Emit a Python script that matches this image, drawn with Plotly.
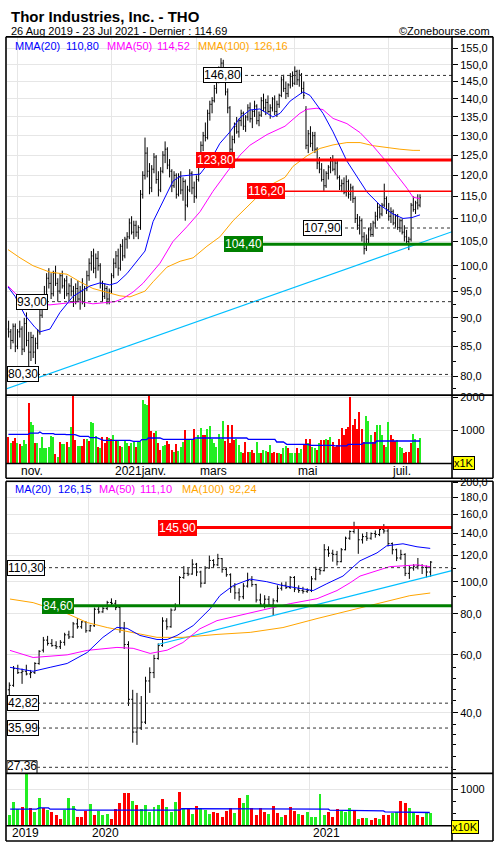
import numpy as np
import pandas as pd
import plotly.graph_objects as go

# ---------------- daily data (x1 = trading day index) ----------------
d_open = [88.0, 87.5, 86.0, 88.5, 85.0, 87.5, 88.0, 84.5, 89.0, 86.0,
          84.0, 86.5, 84.0, 85.5, 87.5, 90.5, 93.5, 92.5, 97.5, 96.5,
          94.5, 98.5, 96.5, 95.0, 98.0, 96.0, 97.0, 94.5, 96.0, 95.0,
          93.0, 95.5, 93.5, 95.0, 93.0, 95.5, 98.0, 100.5, 102.0, 99.5,
          101.5, 100.0, 96.5, 94.0, 95.5, 93.5, 95.0, 98.0, 100.5, 102.0,
          99.5, 104.0, 102.0, 105.5, 106.0, 109.0, 107.0, 108.5, 107.0, 108.0,
          115.5, 120.0, 125.5, 121.0, 117.0, 121.5, 124.5, 119.0, 116.5, 121.0,
          125.0, 126.5, 122.5, 121.0, 117.5, 120.0, 115.5, 119.5, 116.5, 118.5,
          113.0, 116.5, 120.5, 117.0, 115.0, 119.0, 123.0, 127.5, 130.0, 129.5,
          136.0, 138.5, 139.5, 143.0, 145.5, 148.5, 150.5, 146.0, 142.0, 137.5,
          126.5, 129.0, 132.5, 131.0, 134.0, 136.0, 132.5, 135.0, 137.5, 134.5,
          136.5, 138.0, 134.0, 135.5, 139.5, 137.5, 139.0, 136.5, 137.5, 140.0,
          136.5, 138.5, 141.0, 145.5, 143.0, 141.5, 144.0, 146.5, 144.5, 148.0,
          145.5, 147.0, 143.0, 137.0, 127.5, 130.5, 128.0, 130.0, 126.5, 123.0,
          121.5, 119.0, 117.5, 120.5, 122.0, 123.5, 121.5, 123.0, 119.5, 117.5,
          118.0, 116.0, 118.5, 115.5, 117.0, 114.5, 110.0, 108.5, 109.5, 106.0,
          103.5, 105.5, 107.5, 106.5, 109.0, 110.5, 112.5, 111.0, 113.0, 114.5,
          112.0, 110.5, 111.5, 109.0, 110.5, 108.0, 109.5, 107.0, 106.0, 105.0,
          105.5, 113.0, 112.0, 113.5, 113.0]
d_high = [89.5, 88.0, 89.0, 89.0, 88.0, 89.5, 88.5, 90.0, 91.0, 87.5,
          87.5, 87.0, 86.5, 88.0, 91.5, 94.0, 96.0, 98.5, 99.5, 98.5,
          99.0, 100.0, 97.5, 98.5, 99.0, 97.5, 98.0, 96.5, 97.5, 96.0,
          96.5, 97.0, 96.0, 97.5, 96.0, 99.0, 101.5, 103.0, 103.5, 102.5,
          103.0, 100.5, 97.0, 96.5, 96.0, 95.5, 98.5, 101.5, 103.0, 103.5,
          104.5, 105.5, 106.0, 107.0, 110.0, 110.5, 109.5, 109.5, 108.5, 116.5,
          121.0, 129.5, 127.0, 123.0, 122.5, 125.5, 125.0, 121.0, 122.0, 126.0,
          128.5, 127.0, 124.0, 121.5, 121.0, 120.5, 120.5, 121.0, 119.5, 119.0,
          117.5, 121.5, 121.0, 118.5, 120.0, 124.0, 128.5, 131.0, 133.5, 137.0,
          139.5, 140.5, 144.0, 146.5, 149.5, 152.0, 151.5, 146.5, 143.0, 138.0,
          130.0, 133.5, 135.0, 134.5, 137.0, 136.5, 135.5, 138.5, 139.0, 137.0,
          139.5, 138.5, 136.5, 140.5, 141.5, 140.0, 141.0, 138.5, 140.5, 141.0,
          139.5, 141.5, 146.5, 147.0, 145.0, 144.5, 147.5, 148.0, 149.5, 148.5,
          148.5, 147.5, 145.0, 138.0, 131.5, 132.5, 131.0, 131.0, 127.0, 124.5,
          123.0, 121.5, 121.0, 122.5, 124.5, 125.0, 124.0, 123.5, 120.0, 119.0,
          119.5, 120.0, 119.0, 118.0, 117.5, 115.0, 111.0, 110.5, 110.0, 107.0,
          106.5, 108.0, 109.0, 109.5, 111.5, 113.5, 113.0, 113.5, 118.0, 115.0,
          113.5, 112.5, 112.0, 111.0, 111.0, 110.0, 110.0, 108.5, 107.5, 106.0,
          113.5, 115.0, 114.0, 115.5, 115.5]
d_low = [86.5, 84.5, 85.5, 84.0, 84.5, 86.5, 83.5, 84.0, 85.0, 80.3,
         82.5, 83.0, 82.0, 84.5, 87.0, 90.0, 92.0, 92.0, 95.5, 93.5,
         94.0, 96.0, 93.0, 94.5, 95.5, 93.5, 94.0, 93.0, 94.0, 92.0,
         92.5, 93.0, 91.5, 92.5, 92.0, 95.0, 97.0, 99.0, 98.5, 97.5,
         99.0, 95.5, 93.0, 93.5, 92.5, 92.5, 94.5, 97.5, 99.5, 98.0,
         99.0, 101.0, 101.5, 103.5, 105.5, 106.5, 105.5, 106.0, 105.5, 107.5,
         114.5, 119.0, 119.5, 115.5, 116.0, 120.5, 118.0, 115.0, 116.0, 120.5,
         123.0, 121.5, 119.5, 116.0, 117.0, 114.5, 115.0, 115.5, 114.0, 109.5,
         112.5, 116.0, 115.5, 113.5, 114.5, 118.5, 122.0, 126.0, 128.5, 129.0,
         134.0, 136.0, 139.0, 141.5, 144.5, 147.0, 145.0, 141.0, 136.0, 125.0,
         121.7, 128.0, 130.5, 129.5, 132.5, 131.5, 131.0, 134.0, 133.5, 132.0,
         135.0, 133.0, 132.5, 135.0, 136.5, 135.5, 136.0, 134.5, 136.5, 135.5,
         135.0, 137.5, 140.5, 142.0, 140.0, 140.5, 143.0, 143.5, 144.0, 144.0,
         143.5, 141.5, 140.0, 126.5, 125.5, 127.0, 126.0, 125.5, 121.5, 120.5,
         118.5, 116.3, 117.0, 119.0, 120.5, 121.0, 120.0, 119.0, 116.5, 116.0,
         115.5, 115.0, 114.5, 114.0, 113.5, 109.0, 107.5, 106.5, 105.0, 102.3,
         103.0, 104.5, 106.0, 106.0, 108.0, 109.5, 110.0, 110.5, 112.5, 111.0,
         109.5, 109.0, 108.5, 108.0, 107.5, 107.0, 106.5, 105.0, 104.5, 103.2,
         105.0, 111.5, 111.0, 112.0, 112.5]
d_close = [87.5, 86.0, 88.5, 85.0, 87.5, 88.0, 84.5, 89.0, 86.0, 84.0,
           86.5, 84.0, 85.5, 87.5, 90.5, 93.5, 92.5, 97.5, 96.5, 94.5,
           98.5, 96.5, 95.0, 98.0, 96.0, 97.0, 94.5, 96.0, 95.0, 93.0,
           95.5, 93.5, 95.0, 93.0, 95.5, 98.0, 100.5, 102.0, 99.5, 101.5,
           100.0, 96.5, 94.0, 95.5, 93.5, 95.0, 98.0, 100.5, 102.0, 99.5,
           104.0, 102.0, 105.5, 106.0, 109.0, 107.0, 108.5, 107.0, 108.0, 115.5,
           120.0, 125.5, 121.0, 117.0, 121.5, 124.5, 119.0, 116.5, 121.0, 125.0,
           126.5, 122.5, 121.0, 117.5, 120.0, 115.5, 119.5, 116.5, 118.5, 113.0,
           116.5, 120.5, 117.0, 115.0, 119.0, 123.0, 127.5, 130.0, 129.5, 136.0,
           138.5, 139.5, 143.0, 145.5, 148.5, 150.5, 146.0, 142.0, 137.5, 126.5,
           129.0, 132.5, 131.0, 134.0, 136.0, 132.5, 135.0, 137.5, 134.5, 136.5,
           138.0, 134.0, 135.5, 139.5, 137.5, 139.0, 136.5, 137.5, 140.0, 136.5,
           138.5, 141.0, 145.5, 143.0, 141.5, 144.0, 146.5, 144.5, 148.0, 145.5,
           147.0, 143.0, 141.0, 127.5, 130.5, 128.0, 130.0, 126.5, 123.0, 121.5,
           119.0, 117.5, 120.5, 122.0, 123.5, 121.5, 123.0, 119.5, 117.5, 118.0,
           116.0, 118.5, 115.5, 117.0, 114.5, 110.0, 108.5, 109.5, 106.0, 103.5,
           105.5, 107.5, 106.5, 109.0, 110.5, 112.5, 111.0, 113.0, 114.5, 112.0,
           110.5, 111.5, 109.0, 110.5, 108.0, 109.5, 107.0, 106.0, 105.0, 105.5,
           113.0, 112.0, 113.5, 113.0, 114.69]
d_vol = [800, 630, 680, 770, 600, 570, 530, 700, 570, 1820,
         1250, 1150, 630, 600, 450, 800, 450, 450, 500, 830,
         800, 280, 180, 650, 570, 570, 650, 480, 1100, 2050,
         720, 530, 530, 530, 750, 730, 670, 1250, 1220, 830,
         500, 470, 800, 620, 800, 770, 750, 870, 720, 700,
         520, 500, 700, 630, 520, 600, 650, 480, 650, 650,
         1900, 1800, 1750, 2050, 980, 920, 980, 630, 400, 520,
         550, 670, 570, 400, 350, 570, 370, 500, 650, 1020,
         700, 700, 750, 1030, 730, 850, 1080, 850, 850, 1050,
         1120, 750, 600, 500, 900, 750, 1280, 670, 1150, 600,
         1150, 700, 750, 550, 350, 320, 650, 350, 350, 400,
         300, 650, 320, 300, 400, 370, 350, 550, 320, 350,
         300, 300, 280, 450, 520, 450, 300, 300, 320, 450,
         300, 420, 550, 750, 600, 750, 500, 450, 400, 600,
         700, 700, 750, 700, 800, 650, 500, 550, 750, 1070,
         850, 1050, 1100, 2000, 1150, 1350, 1050, 1550, 1050, 650,
         1430, 1280, 850, 650, 950, 1150, 1150, 850, 550, 500,
         1250, 850, 750, 670, 700, 480, 450, 320, 350, 350,
         600, 900, 750, 450, 780]
d_vol_dir = ("rgrrgrgggr" "ggrggggggg" "grgrggrggr" "rggrrgrggg" "rgrrrgrgrg"
             "rgggrggrgg" "gggrrrgrrg" "grrrgrgggr" "gggrgggrrg" "gggggggrrr"
             "rrgggrrrgr" "rggrggrgrr" "rgrggrgggr" "ggrrgrggrg" "rrgrgrrrrr"
             "rrrrrrrrrr" "gggrrgggrg" "grrrgggrrr" "rggrg")

d_ma20_i = [-0.27, 2.9, 7.3, 11.8, 14.0, 18.5, 23.0, 28.8, 36.4, 40.9, 45.3, 48.5, 52.9, 57.4, 61.0,
            64.6, 69.0, 73.5, 76.7, 81.1, 85.6, 90.1, 94.5, 99.0, 103.5, 107.9, 112.4, 115.6, 118.2,
            121.4, 125.9, 131.7, 134.8, 140.6, 145.1, 151.3, 155.8, 160.3, 166.1, 171.9, 176.4, 180.4, 184]
d_ma20 = [95.8, 94.0, 90.5, 88.3, 87.5, 88.0, 91.0, 94.0, 96.0, 96.6, 96.2, 96.6, 98.4, 101.0, 103.0,
          109.3, 113.8, 118.6, 119.8, 120.0, 120.3, 123.5, 128.0, 131.0, 134.8, 136.9, 137.2, 136.0, 135.0,
          136.0, 139.4, 142.0, 141.0, 136.0, 131.0, 123.5, 119.6, 116.0, 113.0, 111.0, 110.0, 110.2, 110.8]
d_ma50_i = [-0.27, 2.9, 7.3, 11.8, 18.5, 26.1, 31.9, 37.7, 44.0, 47.6, 51.2, 55.6, 60.1, 67.7, 73.5,
            79.8, 85.6, 91.4, 97.7, 103.5, 107.9, 115.6, 123.6, 130.3, 133.4, 137.9, 140.6, 145.1, 151.3,
            157.2, 163.0, 169.2, 173.7, 178.2, 180.9, 184]
d_ma50 = [96.0, 94.6, 93.2, 92.6, 92.4, 92.8, 93.0, 92.6, 92.8, 93.0, 93.6, 94.8, 96.5, 100.5, 105.0,
          108.2, 111.5, 116.2, 120.8, 125.0, 127.5, 130.3, 132.5, 136.0, 137.1, 137.4, 137.0, 134.6, 133.2,
          130.8, 127.3, 123.2, 120.0, 116.9, 114.8, 114.5]
d_ma100_i = [-0.27, 5.1, 10.9, 18.5, 26.1, 31.9, 37.7, 44.0, 49.8, 54.3, 57.4, 61.0, 64.6, 70.8, 76.7,
             82.5, 88.7, 94.5, 100.4, 106.6, 112.4, 118.2, 123.6, 127.2, 133.4, 139.3, 145.1, 151.3, 157.2,
             163.0, 169.2, 175.0, 180.9, 184]
d_ma100 = [103.3, 101.6, 100.0, 98.7, 98.3, 96.8, 95.5, 94.7, 94.1, 93.9, 94.4, 95.0, 96.8, 99.7, 100.9,
           101.6, 104.0, 106.0, 109.5, 112.5, 115.5, 118.0, 119.5, 122.2, 124.8, 126.7, 127.6, 128.2, 128.2,
           127.4, 126.9, 126.5, 126.2, 126.2]
dv_ma_i = [-0.1, 8.8, 9.6, 13.3, 14.0, 15.2, 20.0, 20.7, 25.2, 25.9, 29.7, 31.9, 35.7, 36.4, 39.4,
           40.9, 42.4, 54.3, 55.8, 58.8, 59.5, 61.7, 62.5, 67.7, 69.2, 82.6, 83.4, 106.5, 107.2, 119.1,
           119.9, 122.9, 124.4, 133.3, 135.5, 145.2, 146.0, 151.2, 151.9, 157.9, 158.7, 163.9, 164.6, 184]
dv_ma = [880, 880, 920, 920, 950, 900, 900, 880, 880, 870, 870, 820, 820, 780, 780,
         750, 700, 700, 670, 670, 720, 720, 770, 770, 730, 730, 770, 770, 730, 730,
         650, 650, 580, 580, 550, 550, 530, 530, 580, 580, 620, 620, 680, 680]
d_trend_i = [-0.85, 198.3]
d_trend = [78.0, 107.1]
d_levels = [146.80, 123.80, 116.20, 107.90, 104.40, 93.00, 80.30]
d_level_kind = ["dash", "red", "redthin", "dash", "green", "dash", "dash"]
d_legend = [("MMA(20)", "110,80"), ("MMA(50)", "114,52"), ("MMA(100)", "126,16")]

# ---------------- weekly data ----------------
w_open = [47.0, 48.5, 54.5, 53.0, 53.5, 52.5, 53.0, 56.5, 62.0, 66.5,
          65.0, 64.0, 63.5, 65.5, 69.0, 68.0, 74.5, 73.0, 75.5, 71.0,
          73.5, 82.5, 81.0, 83.0, 86.5, 86.0, 83.5, 72.0, 64.5, 44.0,
          35.0, 36.0, 37.5, 50.0, 53.0, 58.5, 64.0, 76.0, 73.0, 82.0,
          84.5, 103.0, 106.0, 105.5, 113.0, 107.0, 99.0, 110.0, 116.0, 112.5,
          117.5, 109.0, 105.0, 96.5, 92.5, 90.0, 97.0, 101.0, 98.0, 88.0,
          85.5, 88.5, 85.0, 87.5, 95.5, 97.5, 96.0, 103.0, 95.0, 94.0,
          93.5, 94.0, 102.0, 109.0, 108.0, 125.0, 122.0, 121.0, 115.0, 125.0,
          135.5, 142.0, 146.0, 134.0, 137.0, 135.5, 140.0, 139.0, 144.0, 142.5,
          130.5, 125.0, 118.0, 121.0, 106.0, 110.0, 111.5, 112.0, 110.5, 107.0]
w_high = [49.5, 55.5, 56.0, 54.5, 56.0, 54.0, 57.0, 62.0, 68.0, 68.5,
          67.0, 66.0, 66.5, 70.0, 71.0, 75.5, 77.5, 76.0, 76.0, 74.0,
          83.5, 84.5, 84.0, 87.5, 89.0, 88.0, 84.0, 75.5, 66.0, 47.0,
          46.0, 45.0, 51.5, 55.0, 60.0, 65.0, 78.0, 77.5, 83.0, 86.0,
          104.0, 111.5, 110.0, 117.0, 114.0, 108.0, 111.5, 120.0, 117.0, 121.5,
          118.0, 110.5, 106.0, 99.0, 95.5, 99.0, 106.5, 104.0, 98.5, 92.0,
          91.0, 90.5, 89.0, 97.5, 99.5, 100.0, 104.0, 104.0, 97.5, 96.5,
          95.5, 104.0, 111.0, 110.0, 130.0, 128.0, 125.0, 124.0, 126.5, 137.0,
          143.0, 152.0, 146.5, 140.0, 141.5, 141.0, 143.0, 145.5, 149.5, 145.0,
          131.5, 126.0, 125.0, 122.0, 112.0, 113.0, 118.0, 113.0, 112.0, 115.5]
w_low = [45.0, 48.0, 52.5, 49.0, 52.0, 51.0, 52.5, 56.0, 61.0, 64.0,
         63.5, 62.5, 62.5, 64.0, 67.0, 67.5, 72.0, 72.0, 70.0, 70.5,
         73.0, 80.0, 80.5, 82.0, 84.5, 82.0, 70.0, 62.5, 42.0, 32.5,
         32.0, 35.5, 37.0, 46.0, 51.0, 58.0, 63.5, 71.5, 72.5, 82.0,
         84.0, 102.0, 104.0, 105.0, 104.0, 96.0, 98.5, 109.5, 110.0, 111.5,
         106.5, 103.5, 92.5, 88.5, 87.5, 88.5, 96.0, 96.5, 86.5, 84.0,
         83.0, 84.0, 79.0, 86.5, 94.0, 95.0, 95.0, 93.0, 92.5, 92.0,
         92.5, 93.0, 101.0, 105.0, 107.5, 119.0, 115.0, 112.0, 114.5, 124.5,
         134.0, 140.0, 121.5, 130.5, 133.0, 134.0, 136.0, 137.5, 140.0, 128.0,
         121.0, 115.5, 116.5, 104.0, 102.0, 108.0, 109.0, 105.5, 103.0, 103.5]
w_close = [48.5, 54.5, 53.0, 53.5, 52.5, 53.0, 56.5, 61.5, 66.5, 65.0,
           64.0, 63.5, 65.5, 69.0, 68.0, 74.5, 73.0, 75.5, 71.0, 73.5,
           82.5, 81.0, 83.0, 86.5, 86.0, 83.5, 72.0, 64.5, 44.0, 35.0,
           36.0, 37.5, 50.0, 53.0, 58.5, 64.0, 76.0, 73.0, 82.0, 84.5,
           103.0, 106.0, 105.5, 113.0, 107.0, 99.0, 110.0, 116.0, 112.5, 117.5,
           109.0, 105.0, 96.5, 92.5, 90.0, 97.0, 101.0, 98.0, 88.0, 85.5,
           88.5, 85.0, 87.5, 95.5, 97.5, 96.0, 103.0, 95.0, 94.0, 93.5,
           94.0, 102.0, 109.0, 108.0, 125.0, 122.0, 121.0, 115.0, 125.0, 135.5,
           142.0, 146.0, 134.0, 137.0, 135.5, 140.0, 139.0, 144.0, 142.5, 130.5,
           125.0, 118.0, 121.0, 106.0, 110.0, 111.5, 112.0, 110.5, 107.0, 114.69]
w_vol = [291, 655, 455, 518, 1600, 491, 355, 764, 473, 427,
         355, 291, 182, 427, 764, 545, 245, 245, 409, 591,
         291, 409, 291, 318, 182, 455, 627, 882, 882, 673,
         564, 455, 564, 382, 518, 564, 727, 518, 382, 655,
         927, 473, 473, 318, 545, 473, 427, 309, 382, 336,
         245, 400, 491, 336, 745, 609, 836, 473, 273, 473,
         355, 318, 545, 336, 227, 291, 518, 409, 318, 273,
         382, 245, 245, 864, 273, 364, 218, 445, 409, 382,
         491, 409, 182, 209, 209, 155, 209, 182, 273, 273,
         336, 382, 673, 627, 491, 382, 273, 218, 336, 336]
w_vol_dir = ("gggrgrggrg" "rrrgggrrrg" "rgggrrrrrg" "rgggggrggg" "rgrgrgggrr"
             "rrrgrggrrr" "rgrrgrrrgr" "gggggrrrgg" "grgrgrrgrr" "ggrrggrrgg")

w_ma20_i = [0.16, 5.6, 9.6, 13.6, 18.3, 22.0, 25.3, 27.7, 30.7, 34.7, 37.1, 39.4, 43.2, 47.2, 49.5,
            52.6, 56.6, 60.5, 64.3, 68.3, 71.4, 74.6, 78.4, 82.4, 86.4, 88.7, 92.5, 95.8, 98.9]
w_ma20 = [55.0, 53.5, 55.0, 56.5, 61.0, 67.8, 72.7, 72.2, 68.7, 66.8, 66.8, 68.7, 73.6, 82.8, 90.8,
          97.3, 101.8, 100.0, 97.3, 95.2, 94.0, 98.6, 104.0, 115.7, 122.3, 128.5, 130.3, 127.6, 126.2]
w_ma50_i = [0.16, 5.6, 13.6, 18.3, 25.3, 29.1, 33.1, 37.1, 40.8, 44.8, 48.8, 56.6, 66.0, 72.3, 77.0,
            80.1, 82.4, 86.4, 89.4, 92.5, 95.8, 98.9]
w_ma50 = [61.9, 58.9, 60.0, 61.9, 63.2, 62.8, 60.6, 62.0, 65.4, 72.0, 76.2, 80.5, 85.8, 88.8, 94.0,
          99.3, 104.0, 108.0, 111.1, 111.7, 112.5, 111.1]
w_ma100_i = [0.16, 5.6, 13.6, 18.3, 23.0, 29.1, 34.7, 40.8, 48.8, 56.6, 64.3, 72.3, 80.1, 87.8, 94.1, 98.9]
w_ma100 = [88.6, 86.4, 80.0, 75.2, 72.6, 70.2, 67.8, 67.8, 69.2, 70.2, 72.6, 77.3, 81.7, 86.4, 90.7, 92.4]
wv_ma_i = [0.2, 6.4, 7.1, 9.2, 9.6, 15.4, 15.8, 40.1, 40.5, 48.7, 49.1, 53.4, 53.8, 63.6, 64.0,
           75.0, 75.3, 80.8, 81.6, 87.9, 88.3, 96.9, 97.3, 98.8]
wv_ma = [455, 455, 491, 491, 455, 455, 427, 427, 473, 473, 455, 455, 473, 473, 455,
         455, 427, 427, 409, 409, 382, 382, 364, 364]
w_trend_i = [34.9, 104.0]
w_trend = [64.5, 108.0]
w_levels = [145.90, 110.30, 84.60, 42.82, 35.99, 27.36]
w_level_kind = ["red", "dash", "green", "dash", "dash", "dash"]
w_legend = [("MA(20)", "126,15"), ("MA(50)", "111,10"), ("MA(100)", "92,24")]

d_ticks = [80, 85, 90, 95, 100, 105, 110, 115, 120, 125, 130, 135, 140, 145, 150, 155]
w_ticks = [40, 60, 80, 100, 120, 140, 160, 180, 200]

# ---------------- geometry (pixels) ----------------
W, H = 500, 850
FONT = "Liberation Sans, Arial, sans-serif"
GRID = "#e6e6e6"
def px(x): return x / W
def py(y): return 1 - y / H

PL, PR = 7, 452
D_X0, D_DX = 8.6, 2.236
W_X0, W_DX = 9.3, 4.256
d_xr = [(PL - D_X0) / D_DX, (PR - D_X0) / D_DX]
w_xr = [(PL - W_X0) / W_DX, (PR - W_X0) / W_DX]
def dix(p): return (p - D_X0) / D_DX
def wix(p): return (p - W_X0) / W_DX

def dlog(y): return np.log10(155) - (y - 44.7) / 1146.6
def wlog(y): return np.log10(200) - (y - 480.7) / 331.3

# dates
holidays = pd.to_datetime(["2020-11-26", "2020-12-25", "2021-01-01", "2021-01-18",
                           "2021-02-15", "2021-04-02", "2021-05-31", "2021-07-05"])
d_dates = pd.bdate_range("2020-10-27", "2021-07-23")
d_dates = d_dates[~d_dates.isin(holidays)]
n_d = len(d_close)
d_idx = np.arange(n_d)
w_dates = pd.date_range("2019-08-26", periods=len(w_close), freq="W-MON")
w_idx = np.arange(len(w_close))

mnames = {11: "nov.", 1: "janv.", 3: "mars", 5: "mai", 7: "juil."}
d_tick_idx, d_tick_txt = [], []
for i in range(1, len(d_dates)):
    if d_dates[i].month != d_dates[i - 1].month and d_dates[i].month in mnames:
        d_tick_idx.append(i)
        m = d_dates[i].month
        d_tick_txt.append((str(d_dates[i].year) if m == 1 else "") + mnames[m])
w_tick_idx, w_tick_txt = [], []
for i in range(1, len(w_dates)):
    if w_dates[i].year != w_dates[i - 1].year:
        w_tick_idx.append(i - 0.5)
        w_tick_txt.append(str(w_dates[i].year))

fig = go.Figure()

def ohlc(o, h, l, c, xa, ya, tw):
    n = len(c)
    fig.add_trace(go.Ohlc(x=np.arange(n), open=o, high=h, low=l, close=c, xaxis=xa, yaxis=ya,
                          increasing=dict(line=dict(color="black", width=1)),
                          decreasing=dict(line=dict(color="black", width=1)),
                          tickwidth=tw, hoverinfo="skip"))

def line(x, y, color, xa, ya, width=1, dash=None):
    fig.add_trace(go.Scatter(x=x, y=y, mode="lines", xaxis=xa, yaxis=ya,
                             line=dict(color=color, width=width, dash=dash), hoverinfo="skip"))

# daily price
ohlc(d_open, d_high, d_low, d_close, "x", "y", 0.4)
line(d_trend_i, d_trend, "#00bfff", "x", "y", 1.2)
line(d_ma100_i, d_ma100, "#ffa500", "x", "y")
line(d_ma50_i, d_ma50, "#ff00ff", "x", "y")
line(d_ma20_i, d_ma20, "#0000ff", "x", "y")

# weekly price
ohlc(w_open, w_high, w_low, w_close, "x3", "y3", 0.35)
line(w_trend_i, w_trend, "#00bfff", "x3", "y3", 1.2)
line(w_ma100_i, w_ma100, "#ffa500", "x3", "y3")
line(w_ma50_i, w_ma50, "#ff00ff", "x3", "y3")
line(w_ma20_i, w_ma20, "#0000ff", "x3", "y3")

COL = {"r": "#ff0000", "g": "#22ee22"}
fig.add_trace(go.Bar(x=d_idx, y=d_vol, marker=dict(color=[COL[c] for c in d_vol_dir], line=dict(width=0)),
                     width=0.65, xaxis="x2", yaxis="y2", hoverinfo="skip"))
line(dv_ma_i, dv_ma, "#0000ff", "x2", "y2", 1.3)
fig.add_trace(go.Bar(x=w_idx, y=w_vol, marker=dict(color=[COL[c] for c in w_vol_dir], line=dict(width=0)),
                     width=0.7, xaxis="x4", yaxis="y4", hoverinfo="skip"))
line(wv_ma_i, wv_ma, "#0000ff", "x4", "y4", 1.3)

annotations = []
shapes = []

STY = {"dash": dict(color="#333333", width=1, dash="3px,3px"),
       "red": dict(color="#ff0000", width=3),
       "redthin": dict(color="#ff0000", width=1.5),
       "green": dict(color="#008000", width=3)}
LBL = {"dash": ("white", "black", "black"), "red": ("#ff0000", "#ff0000", "white"),
       "redthin": ("#ff0000", "#ff0000", "white"), "green": ("#008000", "#008000", "white")}

def levels(vals, kinds, starts, xa, ya, xr, clip_last=None):
    for v, k, s in zip(vals, kinds, starts):
        txt = f"{v:.2f}".replace(".", ",")
        bg, bc, fc = LBL[k]
        if clip_last is not None and v == clip_last[0]:
            # label partly hidden by the panel edge: clipped shape + clipped text
            x1 = clip_last[1]
            line([x1, xr[1]], [v, v], STY[k]["color"], xa, ya, STY[k]["width"], STY[k].get("dash"))
            shapes.append(dict(type="rect", xref=xa, yref=ya, x0=s, x1=x1, y0=v / 1.047, y1=v * 1.047,
                               fillcolor=bg, line=dict(color=bc, width=1), layer="below"))
            fig.add_trace(go.Scatter(x=[(s + x1) / 2], y=[v], mode="text", text=[txt], xaxis=xa, yaxis=ya,
                                     textfont=dict(family=FONT, size=12, color=fc), cliponaxis=True,
                                     hoverinfo="skip"))
            continue
        line([s, xr[1]], [v, v], STY[k]["color"], xa, ya, STY[k]["width"], STY[k].get("dash"))
        annotations.append(dict(x=s, y=np.log10(v), xref=xa, yref=ya, text=txt, showarrow=False,
                                xanchor="left", yanchor="middle", bgcolor=bg, bordercolor=bc,
                                borderwidth=1, borderpad=0, font=dict(family=FONT, size=12, color=fc)))

levels(d_levels, d_level_kind, [dix(203), dix(196), dix(247), dix(303), dix(224), dix(16), d_xr[0]],
       "x", "y", d_xr)
levels(w_levels, w_level_kind, [wix(158), w_xr[0], wix(42), w_xr[0], w_xr[0], w_xr[0]],
       "x3", "y3", w_xr, clip_last=(27.36, wix(37)))

# legends
LCOL = ["#0000ff", "#ff00ff", "#ffa500"]
def legend(items, xs, y):
    k = 0
    for (name, val), c in zip(items, LCOL):
        for t in (name, val):
            annotations.append(dict(x=px(xs[k]), y=py(y), xref="paper", yref="paper", text=t, showarrow=False,
                                    xanchor="left", yanchor="middle", font=dict(family=FONT, size=11, color=c)))
            k += 1
legend(d_legend, [13, 64, 105, 155, 196, 252], 41.7)
legend(w_legend, [13, 56, 97, 138, 180, 227], 487)

# x labels
for i, t in zip(d_tick_idx, d_tick_txt):
    annotations.append(dict(x=i + 0.6, y=py(469.5), xref="x2", yref="paper", text=t, showarrow=False,
                            xanchor="left", yanchor="middle", font=dict(family=FONT, size=12, color="black")))
annotations.append(dict(x=wix(10), y=py(833), xref="x4", yref="paper", text=str(w_dates[0].year),
                        showarrow=False, xanchor="left", yanchor="middle",
                        font=dict(family=FONT, size=12, color="black")))
for i, t in zip(w_tick_idx, w_tick_txt):
    annotations.append(dict(x=i + 0.4, y=py(833), xref="x4", yref="paper", text=t, showarrow=False,
                            xanchor="left", yanchor="middle", font=dict(family=FONT, size=12, color="black")))

# titles
annotations += [
    dict(x=px(9), y=py(12.5), xref="paper", yref="paper", text="<b>Thor Industries, Inc. - THO</b>",
         showarrow=False, xanchor="left", yanchor="middle", font=dict(family=FONT, size=15, color="black")),
    dict(x=px(9), y=py(27), xref="paper", yref="paper",
         text="26 Aug 2019 - 23 Jul 2021 - Dernier : 114.69",
         showarrow=False, xanchor="left", yanchor="middle", font=dict(family=FONT, size=11, color="black")),
    dict(x=px(491.5), y=py(27), xref="paper", yref="paper", text="©Zonebourse.com",
         showarrow=False, xanchor="right", yanchor="middle", font=dict(family=FONT, size=11, color="black")),
    dict(x=px(453), y=py(461.5), xref="paper", yref="paper", text="x1K", showarrow=False,
         xanchor="left", yanchor="middle", bgcolor="#ffff00", bordercolor="black", borderwidth=1, borderpad=0,
         font=dict(family=FONT, size=11, color="black")),
    dict(x=px(451), y=py(826.5), xref="paper", yref="paper", text="x10K", showarrow=False,
         xanchor="left", yanchor="middle", bgcolor="#ffff00", bordercolor="black", borderwidth=1, borderpad=0,
         font=dict(family=FONT, size=11, color="black")),
]

# frames
def hl(y, x0=6, x1=493, w=1.6):
    shapes.append(dict(type="line", xref="paper", yref="paper", x0=px(x0), x1=px(x1), y0=py(y), y1=py(y),
                       line=dict(color="black", width=w), layer="above"))
def vl(x, y0, y1, w=1.6):
    shapes.append(dict(type="line", xref="paper", yref="paper", x0=px(x), x1=px(x), y0=py(y0), y1=py(y1),
                       line=dict(color="black", width=w), layer="above"))
hl(33); hl(476.5); vl(6, 33, 476.5); vl(493, 33, 476.5); hl(393); hl(461.7, 6, 452); vl(452, 33, 476.5)
hl(479.5); hl(841); vl(6, 479.5, 841); vl(493, 479.5, 841); hl(773); hl(825.7, 6, 452); vl(452, 479.5, 841)

XD = [px(PL), px(PR)]
def xax(rng, anchor, tv):
    return dict(domain=XD, range=rng, anchor=anchor, tickmode="array", tickvals=tv, showticklabels=False,
                ticks="", showgrid=True, gridcolor=GRID, gridwidth=1, zeroline=False, showline=False,
                rangeslider=dict(visible=False), fixedrange=True)
def yax(dom, rng, anchor, tv, tt, log=False, minor=None):
    d = dict(domain=dom, range=rng, anchor=anchor, side="right", tickmode="array", tickvals=tv, ticktext=tt,
             ticks="outside", ticklen=5, tickcolor="black", tickwidth=1,
             tickfont=dict(family=FONT, size=11, color="black"), showgrid=True, gridcolor=GRID,
             zeroline=False, showline=False, fixedrange=True)
    if log:
        d["type"] = "log"
    if minor:
        d["minor"] = dict(tickmode="array", tickvals=minor, ticks="outside", ticklen=3, tickcolor="black",
                          showgrid=False)
    return d

fig.update_layout(
    width=W, height=H, margin=dict(l=0, r=0, t=0, b=0), paper_bgcolor="white", plot_bgcolor="white",
    showlegend=False, font=dict(family=FONT, size=11, color="black"),
    xaxis=xax(d_xr, "y", d_tick_idx),
    xaxis2=xax(d_xr, "y2", d_tick_idx),
    xaxis3=xax(w_xr, "y3", w_tick_idx),
    xaxis4=xax(w_xr, "y4", w_tick_idx),
    yaxis=yax([py(393), py(33)], [dlog(393), dlog(33)], "x", d_ticks,
              [f"{v},0" for v in d_ticks], log=True, minor=[97.5, 92.5, 87.5, 82.5, 78]),
    yaxis2=yax([py(461.7), py(393)], [0, (461.7 - 393) / 33.3 * 1000], "x2", [1000, 2000], ["1000", "2000"]),
    yaxis3=yax([py(773), py(479)], [wlog(773), wlog(479)], "x3", w_ticks,
               [f"{v},0" for v in w_ticks], log=True,
               minor=[130, 110, 90, 70, 55, 51, 47, 43.5, 37, 34.5, 32, 29.5, 27]),
    yaxis4=yax([py(825.7), py(773)], [0, (825.7 - 773) / 36.7 * 1000], "x4", [1000], ["1000"],
               minor=[333, 667, 1333]),
    annotations=annotations, shapes=shapes, bargap=0,
)

fig.write_html("out.html")
